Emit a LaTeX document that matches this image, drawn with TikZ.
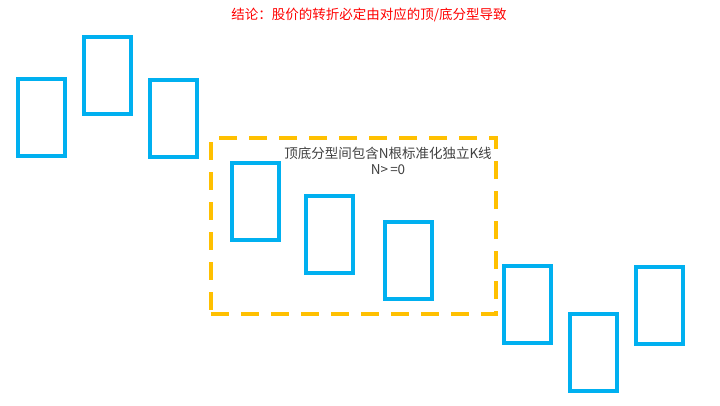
\documentclass[tikz,border=0pt]{standalone}
\usepackage{fontspec}
\newfontfamily\cjk{Noto Sans CJK SC}
\definecolor{kblue}{HTML}{00B0F0}
\definecolor{korange}{HTML}{FFC000}
\definecolor{ktext}{HTML}{404040}
\definecolor{kred}{HTML}{FF0000}
\begin{document}
\begin{tikzpicture}[x=1pt,y=-1pt,
  kbar/.style={draw=kblue,line width=4pt,minimum width=47pt,minimum height=77pt,inner sep=0pt,outer sep=0pt},
  zone/.style={draw=korange,line width=4pt,dash pattern=on 18pt off 12pt,inner sep=0pt,outer sep=0pt},
  lbl/.style={font=\cjk\fontsize{13.5pt}{16pt}\selectfont,inner sep=0pt,align=center}]
\useasboundingbox (0,0) rectangle (720,405);
\node[lbl,text=kred] (title) at (369,15) {结论：股价的转折必定由对应的顶/底分型导致};
\node[zone,minimum width=285pt,minimum height=176pt] (zone) at (353.5,226) {};
\node[lbl,text=ktext] (note) at (388,161) {顶底分型间包含N根标准化独立K线\\N>\,=0};
\node[kbar] (b1) at (41,117.5) {};
\node[kbar] (b2) at (107.5,75) {};
\node[kbar] (b3) at (173,118.5) {};
\node[kbar] (b4) at (255.5,201) {};
\node[kbar] (b5) at (329.5,234.5) {};
\node[kbar] (b6) at (408.5,260.5) {};
\node[kbar] (b7) at (527.5,304) {};
\node[kbar] (b8) at (593.5,352) {};
\node[kbar] (b9) at (659.5,305.5) {};
\end{tikzpicture}
\end{document}
